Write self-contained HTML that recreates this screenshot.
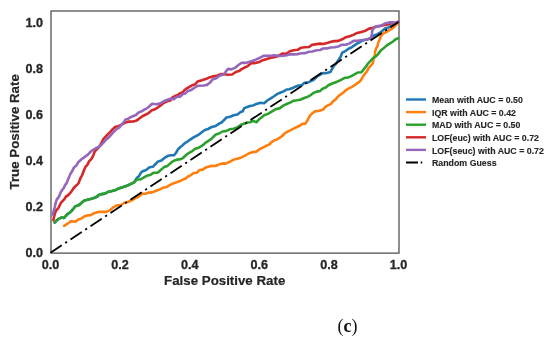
<!DOCTYPE html>
<html><head><meta charset="utf-8"><title>ROC</title>
<style>
html,body{margin:0;padding:0;background:#fff;}
body{width:550px;height:341px;overflow:hidden;position:relative;font-family:"Liberation Sans",sans-serif;}
svg{position:absolute;left:0;top:0;}
.t{font-family:"Liberation Sans",sans-serif;font-weight:bold;fill:#262626;}
.tk{stroke:#262626;stroke-width:0.3;}
.lb{stroke:#262626;stroke-width:0.2;}
.lg{stroke:#262626;stroke-width:0.12;}
.c{fill:none;stroke-width:2.6;stroke-linejoin:round;stroke-linecap:round;}
</style></head><body>
<svg width="550" height="341" viewBox="0 0 550 341">
<rect x="0" y="0" width="550" height="341" fill="#fff"/>
<rect x="51" y="11" width="348" height="242.1" fill="none" stroke="#333" stroke-width="1.1"/>
<polyline class="c" stroke="#1f77b4" points="54.7,222.5 56.6,220.6 58.8,218.8 61.7,217.4 64.1,218.0 66.9,214.6 70.1,212.3 72.8,209.5 75.4,206.2 78.1,205.6 80.7,203.6 84.0,200.8 87.3,199.8 91.5,198.7 94.6,197.7 97.3,196.5 98.8,194.9 101.8,194.1 105.0,193.6 108.5,191.7 111.1,191.2 114.9,190.3 117.9,188.8 121.0,187.7 124.1,186.7 127.5,185.5 130.9,183.9 134.2,182.3 137.1,177.5 138.8,176.5 140.3,173.6 142.1,171.5 146.1,170.1 149.5,167.3 152.8,166.8 155.1,164.5 158.1,161.4 161.4,160.6 165.1,157.5 168.3,155.7 171.1,155.2 173.9,155.3 175.9,153.0 178.0,149.3 180.5,147.0 182.5,145.4 185.2,142.8 187.2,141.8 189.9,139.8 193.9,137.1 197.3,135.5 199.8,133.8 202.1,132.0 204.8,130.0 208.1,129.0 211.6,127.0 215.8,125.9 219.1,123.7 221.5,122.5 223.6,120.5 226.5,117.5 230.1,116.8 233.7,115.3 237.4,114.5 240.6,112.0 242.8,111.2 244.3,108.1 247.3,107.0 249.9,106.1 253.2,105.4 256.4,103.9 260.5,102.7 264.2,103.3 267.2,100.5 270.8,98.3 273.7,96.5 277.4,93.9 280.2,92.7 283.6,91.4 286.6,89.5 289.3,89.3 292.7,88.1 295.3,86.7 298.5,85.5 301.7,85.2 304.3,82.9 307.7,82.6 310.8,81.1 313.3,80.1 315.7,78.0 317.2,76.3 319.9,74.9 323.0,73.0 326.0,73.2 330.3,72.1 331.8,69.5 333.9,65.8 336.0,63.9 338.1,60.5 340.4,57.2 342.3,52.6 345.8,50.8 349.2,48.2 351.5,47.4 353.7,45.8 356.6,43.9 359.0,42.7 362.7,40.5 366.7,39.4 370.2,38.3 374.1,35.4 377.5,34.1 381.3,31.8 384.8,28.6 388.6,27.4 391.6,25.8 395.3,24.3 398.2,22.2"/>
<polyline class="c" stroke="#ff7f0e" points="64.1,225.8 68.3,223.2 71.3,221.2 75.5,221.6 78.5,219.4 81.4,218.4 84.5,216.3 87.4,215.4 90.6,215.2 93.8,213.3 96.5,212.5 99.2,211.8 102.5,211.9 106.1,211.9 109.8,210.4 113.3,207.3 117.0,205.3 120.8,205.3 124.5,202.7 128.4,201.7 132.0,200.0 135.4,198.1 138.5,196.7 142.3,193.7 145.6,193.7 148.8,192.6 152.2,192.4 155.6,191.0 158.9,189.8 162.7,187.8 165.9,187.3 169.4,185.3 172.5,183.7 176.5,182.2 180.3,181.1 183.0,179.5 185.7,178.5 188.0,176.5 191.0,175.1 193.6,173.0 196.6,172.7 199.7,170.0 202.8,169.6 205.8,167.4 209.1,166.4 212.4,165.9 215.5,166.0 218.8,164.6 222.7,163.4 225.7,163.6 229.7,161.8 233.3,159.8 237.2,158.8 240.9,157.7 244.7,155.8 248.6,153.5 252.9,152.1 256.3,151.6 260.3,148.7 264.5,146.9 266.4,145.6 269.3,144.5 271.5,142.1 274.0,140.6 277.1,139.4 279.8,137.7 282.3,135.9 284.5,133.5 287.2,131.9 290.7,130.2 295.1,127.8 298.7,126.3 302.4,123.9 305.4,123.6 306.9,121.3 308.2,119.0 309.9,115.6 312.4,113.2 315.0,111.4 319.2,110.7 323.3,109.5 325.3,106.9 327.9,105.4 330.7,104.1 333.3,101.1 335.7,99.4 338.0,96.5 340.8,94.4 343.5,92.5 345.6,90.3 348.3,88.6 351.0,87.3 353.5,85.9 356.6,83.8 360.3,81.0 362.5,77.4 365.1,73.5 366.9,71.4 368.7,67.9 371.1,65.3 372.8,63.2 373.7,58.5 374.9,55.0 375.1,51.9 376.1,48.4 377.6,46.0 378.1,42.7 379.8,39.2 381.1,35.8 383.2,33.4 385.6,32.5 388.3,30.8 391.3,29.0 394.4,26.6 397.2,23.3 398.2,22.4"/>
<polyline class="c" stroke="#2ca02c" points="54.7,222.5 56.6,220.6 58.8,218.8 61.7,217.4 64.1,218.0 66.9,214.6 70.1,212.3 72.8,209.5 75.4,206.2 78.1,205.6 80.7,203.6 84.0,200.8 87.3,199.8 91.5,198.7 94.6,197.7 97.3,196.5 98.8,194.9 101.8,194.1 105.0,193.6 108.5,191.7 111.1,191.2 114.9,190.3 117.9,188.8 121.0,187.7 124.1,186.7 127.5,185.6 130.7,184.0 134.0,182.4 137.1,179.5 140.4,179.5 143.6,177.6 146.7,175.8 149.9,175.1 153.4,172.8 157.6,172.8 160.5,170.3 164.1,167.1 167.5,165.9 172.1,161.8 174.6,160.4 177.4,159.6 180.3,159.3 183.2,157.8 186.3,154.8 189.5,152.6 192.3,151.1 195.6,148.5 198.2,147.9 201.4,146.2 204.8,143.4 206.9,141.8 209.5,140.2 211.8,138.4 215.8,134.5 219.1,133.5 222.5,131.5 226.7,130.9 230.0,129.2 233.6,128.8 237.0,127.5 241.0,124.7 244.6,123.5 247.4,122.5 250.1,122.2 252.9,120.9 256.6,122.2 258.9,119.5 261.7,117.3 264.1,115.3 267.9,113.9 271.7,111.6 275.8,109.1 279.5,108.4 283.2,105.6 287.3,103.7 290.1,102.6 293.7,100.7 296.7,100.3 300.2,99.7 304.7,97.7 307.4,96.9 310.8,95.1 313.4,93.0 316.7,91.6 319.9,91.1 322.5,88.7 325.7,87.5 328.4,85.3 331.6,83.8 335.7,82.3 338.4,81.1 341.4,79.7 344.8,77.8 347.2,77.7 350.8,76.4 353.6,74.9 357.7,72.5 361.4,72.2 363.9,69.2 366.2,66.3 368.1,63.4 370.3,61.2 373.0,58.2 375.6,56.7 378.1,54.1 380.7,50.6 383.2,48.6 386.5,45.6 390.0,43.4 393.0,41.5 395.7,39.3 398.2,38.3"/>
<polyline class="c" stroke="#d62728" points="53.4,220.3 54.2,216.1 55.2,212.6 56.3,210.3 58.3,208.2 60.9,202.8 64.4,199.1 66.0,196.5 67.8,195.5 70.8,192.4 73.4,188.5 75.6,186.1 78.5,183.4 80.4,178.2 82.1,175.3 83.9,170.5 85.5,166.8 87.5,164.6 89.1,161.2 91.3,159.1 93.2,155.7 94.8,151.2 97.5,148.6 99.8,145.9 102.1,141.7 103.5,138.8 105.8,136.5 108.0,134.1 110.5,131.7 112.7,129.2 115.4,126.7 118.3,126.2 121.5,124.6 125.7,122.6 129.0,121.6 133.3,121.5 136.8,120.4 139.3,118.5 141.7,116.7 144.9,115.0 148.6,113.1 151.9,110.2 155.1,109.2 157.3,107.8 160.0,105.9 163.6,103.0 167.6,101.0 170.1,100.6 172.5,97.4 174.9,96.0 177.8,95.0 179.9,93.4 182.8,92.1 184.8,89.8 187.3,88.2 190.3,86.4 192.4,85.2 195.2,84.2 197.6,81.6 201.9,80.2 205.8,79.0 209.2,77.6 212.9,76.4 216.8,75.9 221.0,74.0 224.3,74.2 228.3,74.7 232.1,74.5 235.8,72.0 239.0,71.1 241.6,69.1 244.1,67.8 247.8,66.1 251.4,63.1 255.0,63.1 259.4,61.9 262.8,60.2 266.9,58.9 270.8,57.8 274.5,57.1 278.0,56.2 282.3,53.5 286.2,53.8 289.8,51.3 293.8,50.2 297.6,49.8 300.8,47.8 305.1,47.3 309.0,47.0 312.4,44.7 316.6,44.1 320.3,43.6 323.2,44.0 327.1,43.0 330.9,41.8 334.6,41.1 338.6,40.9 342.1,39.3 345.6,37.3 349.8,36.2 353.9,34.6 357.1,32.9 361.4,31.9 364.7,31.1 369.1,28.6 372.7,27.9 376.7,26.5 380.2,26.1 384.5,24.9 387.7,24.4 392.1,23.0 395.0,22.9 398.2,21.7"/>
<polyline class="c" stroke="#9467bd" points="52.8,214.6 53.7,211.1 54.7,207.6 55.5,203.7 56.7,199.6 59.0,196.6 60.7,192.4 62.1,190.0 63.8,188.0 65.2,184.8 66.6,183.1 68.2,179.0 69.5,176.1 70.7,173.2 71.9,171.6 74.0,167.4 76.6,165.3 78.2,162.2 81.5,159.2 84.4,157.1 87.9,154.6 91.3,151.0 94.8,148.9 98.5,146.8 101.1,145.1 103.4,142.7 106.2,139.5 109.1,137.2 111.3,134.7 114.1,131.5 116.9,128.9 119.2,127.6 121.3,125.0 123.6,122.5 125.5,119.6 127.8,118.9 131.6,116.7 136.0,115.0 138.6,112.4 141.7,111.3 144.3,109.6 147.3,108.1 149.3,106.5 151.9,103.8 156.1,104.2 159.8,103.6 163.8,101.3 167.5,99.8 170.4,98.8 173.9,99.2 176.7,96.7 180.3,96.6 182.6,94.2 185.4,93.4 188.0,90.9 191.3,89.9 195.0,87.5 197.9,85.7 200.2,85.7 203.7,85.5 207.0,84.9 209.8,82.8 212.6,79.4 216.2,78.3 219.4,75.8 223.6,74.5 225.9,71.5 228.1,68.9 231.3,69.4 234.8,67.9 238.1,65.2 241.5,62.8 245.6,62.9 249.0,61.9 252.9,60.8 256.4,59.4 259.9,57.8 263.4,55.9 267.4,55.8 270.8,55.7 274.0,55.4 276.6,55.5 279.8,56.0 283.2,55.7 286.6,55.2 289.6,54.4 293.7,54.4 297.2,54.1 301.4,53.3 305.3,53.1 308.8,51.7 312.4,51.5 316.6,50.3 320.1,50.0 323.2,48.5 327.0,48.4 330.7,47.5 334.5,47.2 338.4,46.4 341.8,44.8 345.9,44.8 349.6,43.4 353.7,40.9 357.4,40.8 360.9,40.2 364.8,39.8 368.4,39.1 371.2,37.3 371.9,33.9 372.2,30.6 374.7,27.1 378.1,26.0 381.3,25.5 385.4,23.3 389.4,22.4 392.3,22.3 395.3,22.9 398.2,21.7"/>
<line x1="50.5" y1="252.8" x2="398.5" y2="21.9" stroke="#000" stroke-width="1.8" stroke-dasharray="13.5,4.2,2.1,4.2"/>
<g class="t tk" font-size="12.6" text-anchor="end">
<text x="43" y="26.8">1.0</text><text x="43" y="72.9">0.8</text><text x="43" y="119">0.6</text><text x="43" y="165.1">0.4</text><text x="43" y="211.2">0.2</text><text x="43" y="257.3">0.0</text>
</g>
<g class="t tk" font-size="12.6" text-anchor="middle">
<text x="50.5" y="268.6">0.0</text><text x="120.1" y="268.6">0.2</text><text x="189.7" y="268.6">0.4</text><text x="259.3" y="268.6">0.6</text><text x="328.9" y="268.6">0.8</text><text x="398.5" y="268.6">1.0</text>
</g>
<text class="t lb" font-size="13.3" text-anchor="middle" x="224.7" y="285.2">False Positive Rate</text>
<text class="t lb" font-size="13.3" text-anchor="middle" transform="translate(18.9,131.8) rotate(-90)">True Positive Rate</text>
<g stroke-width="2.4" stroke-linecap="butt">
<line x1="406" x2="426" y1="99.5" y2="99.5" stroke="#1f77b4"/>
<line x1="406" x2="426" y1="112.1" y2="112.1" stroke="#ff7f0e"/>
<line x1="406" x2="426" y1="124.7" y2="124.7" stroke="#2ca02c"/>
<line x1="406" x2="426" y1="137.3" y2="137.3" stroke="#d62728"/>
<line x1="406" x2="426" y1="149.9" y2="149.9" stroke="#9467bd"/>
<line x1="406" x2="426" y1="162.5" y2="162.5" stroke="#000" stroke-width="2" stroke-dasharray="12,2.7,1.5,10"/>
</g>
<g class="t lg" font-size="8.8">
<text x="432" y="103.1">Mean with AUC = 0.50</text>
<text x="432" y="115.7">IQR with AUC = 0.42</text>
<text x="432" y="128.3">MAD with AUC = 0.50</text>
<text x="432" y="140.9">LOF(euc) with AUC = 0.72</text>
<text x="432" y="153.5">LOF(seuc) with AUC = 0.72</text>
<text x="432" y="166.1">Random Guess</text>
</g>
<text x="347.5" y="332.4" text-anchor="middle" font-family="'Liberation Serif',serif" font-size="18" fill="#111">(<tspan font-weight="bold">c</tspan>)</text>
</svg>
</body></html>
